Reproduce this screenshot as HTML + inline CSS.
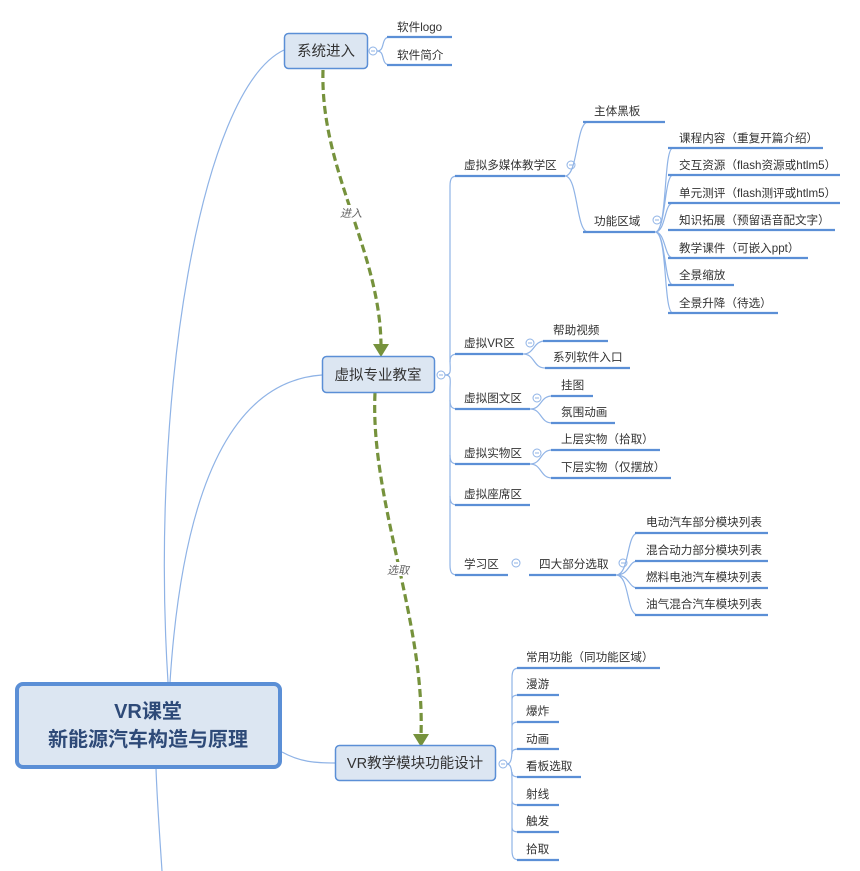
<!DOCTYPE html>
<html><head><meta charset="utf-8"><style>
html,body{margin:0;padding:0;background:#fff;width:860px;height:871px;overflow:hidden}
svg{display:block}
text{font-family:"Liberation Sans","Noto Sans CJK SC",sans-serif;fill:#333}
.l{font-size:11.6px}
.n{font-size:14.5px;fill:#333}
.u{stroke:#5b8fd6;stroke-width:2.2;fill:none}
.c{stroke:#8fb3e6;stroke-width:1.2;fill:none}
.o{stroke:#8fb3e6;stroke-width:1;fill:#fff}
</style></head><body>
<svg width="860" height="871" viewBox="0 0 860 871">
<!-- root connectors -->
<path class="c" d="M168 682 C150 400 200 90 284 50"/>
<path class="c" d="M170 682 C185 450 250 380 322 375"/>
<path class="c" d="M282 752 C300 762 315 763 335 763"/>
<path class="c" d="M156 768 C157 800 160 840 162 871"/>
<!-- dashed arrows -->
<path d="M323 70 C320 170 380 250 381 345" stroke="#76923c" stroke-width="3.2" stroke-dasharray="8,4" fill="none"/>
<polygon points="373,344 389,344 381,357" fill="#76923c"/>
<path d="M375 393 C370 500 425 620 421 735" stroke="#76923c" stroke-width="3.2" stroke-dasharray="8,4" fill="none"/>
<polygon points="413,734 429,734 421,747" fill="#76923c"/>
<rect x="339" y="205" width="24" height="14" fill="#fff"/>
<text x="340" y="217" style="font-size:11px;font-style:italic;fill:#666">进入</text>
<rect x="386" y="562" width="24" height="14" fill="#fff"/>
<text x="387" y="574" style="font-size:11px;font-style:italic;fill:#666">选取</text>
<!-- root -->
<rect x="17" y="684" width="263" height="83" rx="6" fill="#dce6f2" stroke="#5b8fd6" stroke-width="4"/>
<text x="148" y="718" text-anchor="middle" style="font-size:20px;font-weight:bold;fill:#2e4a78">VR课堂</text>
<text x="148" y="746" text-anchor="middle" style="font-size:20px;font-weight:bold;fill:#2e4a78">新能源汽车构造与原理</text>
<!-- main nodes -->
<rect x="284.5" y="33.5" width="83" height="35" rx="4" fill="#dce6f2" stroke="#5b8fd6" stroke-width="1.5"/>
<text class="n" x="326" y="56" text-anchor="middle">系统进入</text>
<rect x="322.5" y="356.5" width="112" height="36" rx="4" fill="#dce6f2" stroke="#5b8fd6" stroke-width="1.5"/>
<text class="n" x="378" y="380" text-anchor="middle">虚拟专业教室</text>
<rect x="335.5" y="745.5" width="160" height="35" rx="4" fill="#dce6f2" stroke="#5b8fd6" stroke-width="1.5"/>
<text class="n" x="415" y="768" text-anchor="middle">VR教学模块功能设计</text>

<!-- 系统进入 children -->
<circle class="o" cx="373" cy="51" r="4"/>
<path class="c" d="M377 51 C386 51 380 37 390 37 M377 51 C386 51 380 65 390 65"/>
<path class="u" d="M387 37 H452 M387 65 H452"/>
<text class="l" x="397" y="31">软件logo</text><text class="l" x="397" y="59">软件简介</text>

<!-- 虚拟专业教室 spine -->
<circle class="o" cx="441" cy="375" r="4"/>
<path class="c" d="M445 375 C452 375 450 370 450 360 L450 186 C450 178 452 176 458 176"/>
<path class="c" d="M445 375 C452 375 450 380 450 390 L450 565 C450 573 452 575 458 575"/>
<path class="c" d="M450 362 C450 356 452 354 458 354 M450 400 C450 407 452 409 458 409 M450 455 C450 462 452 464 458 464 M450 496 C450 503 452 505 458 505"/>
<path class="u" d="M455 176 H565 M455 354 H523 M455 409 H530 M455 464 H530 M455 505 H530 M455 575 H508 M529 575 H616"/>
<text class="l" x="464" y="169">虚拟多媒体教学区</text>
<text class="l" x="464" y="347">虚拟VR区</text>
<text class="l" x="464" y="402">虚拟图文区</text>
<text class="l" x="464" y="457">虚拟实物区</text>
<text class="l" x="464" y="498">虚拟座席区</text>
<text class="l" x="464" y="568">学习区</text>
<text class="l" x="539" y="568">四大部分选取</text>

<!-- 多媒体 children -->
<circle class="o" cx="571" cy="165" r="4"/>
<path class="c" d="M565 176 C578 176 576 122 588 122 M565 176 C578 176 576 232 588 232"/>
<path class="u" d="M583 122 H665 M583 232 H655"/>
<text class="l" x="594" y="115">主体黑板</text><text class="l" x="594" y="225">功能区域</text>
<circle class="o" cx="657" cy="220" r="4"/>
<path class="c" d="M655 232 C668 232 663 148 673 148 M655 232 C666 232 664 175 673 175 M655 232 C666 232 664 203 673 203 M655 232 C666 232 664 258 673 258 M655 232 C666 232 664 285 673 285 M655 232 C668 232 663 313 673 313"/>
<path class="u" d="M668 148 H823 M668 175 H840 M668 203 H840 M668 230 H835 M668 258 H808 M668 285 H734 M668 313 H778"/>
<text class="l" x="679" y="142">课程内容（重复开篇介绍）</text>
<text class="l" x="679" y="169">交互资源（flash资源或htlm5）</text>
<text class="l" x="679" y="197">单元测评（flash测评或htlm5）</text>
<text class="l" x="679" y="224">知识拓展（预留语音配文字）</text>
<text class="l" x="679" y="252">教学课件（可嵌入ppt）</text>
<text class="l" x="679" y="279">全景缩放</text>
<text class="l" x="679" y="307">全景升降（待选）</text>

<!-- VR区 -->
<circle class="o" cx="530" cy="343" r="4"/>
<path class="c" d="M523 354 C535 354 533 341 545 341 M523 354 C535 354 533 368 545 368"/>
<path class="u" d="M543 341 H608 M545 368 H630"/>
<text class="l" x="553" y="334">帮助视频</text><text class="l" x="553" y="361">系列软件入口</text>
<!-- 图文区 -->
<circle class="o" cx="537" cy="398" r="4"/>
<path class="c" d="M530 409 C542 409 540 396 552 396 M530 409 C542 409 540 423 552 423"/>
<path class="u" d="M551 396 H593 M551 423 H615"/>
<text class="l" x="561" y="389">挂图</text><text class="l" x="561" y="416">氛围动画</text>
<!-- 实物区 -->
<circle class="o" cx="537" cy="453" r="4"/>
<path class="c" d="M530 464 C542 464 540 450 552 450 M530 464 C542 464 540 478 552 478"/>
<path class="u" d="M551 450 H660 M551 478 H671"/>
<text class="l" x="561" y="443">上层实物（拾取）</text><text class="l" x="561" y="471">下层实物（仅摆放）</text>
<!-- 学习区 -->
<circle class="o" cx="516" cy="563" r="4"/>
<circle class="o" cx="623" cy="563" r="4"/>
<path class="c" d="M616 575 C630 575 626 533 638 533 M616 575 C630 575 628 561 638 561 M616 575 C630 575 628 588 638 588 M616 575 C630 575 626 615 638 615"/>
<path class="u" d="M635 533 H768 M635 561 H768 M635 588 H768 M635 615 H768"/>
<text class="l" x="646" y="526">电动汽车部分模块列表</text>
<text class="l" x="646" y="554">混合动力部分模块列表</text>
<text class="l" x="646" y="581">燃料电池汽车模块列表</text>
<text class="l" x="646" y="608">油气混合汽车模块列表</text>

<!-- VR module children -->
<circle class="o" cx="503" cy="764" r="4"/>
<path class="c" d="M507 764 C512 764 512 755 512 745 L512 678 C512 670 514 668 520 668 M507 764 C512 764 512 773 512 783 L512 850 C512 858 514 860 520 860 M512 700 C512 696 514 695 520 695 M512 727 C512 723 514 722 520 722 M512 754 C512 750 514 749 520 749 M512 772 C512 776 514 777 520 777 M512 800 C512 804 514 805 520 805 M512 827 C512 831 514 832 520 832"/>
<path class="u" d="M517 668 H660 M517 695 H559 M517 722 H559 M517 749 H559 M517 777 H581 M517 805 H559 M517 832 H559 M517 860 H559"/>
<text class="l" x="526" y="661">常用功能（同功能区域）</text>
<text class="l" x="526" y="688">漫游</text>
<text class="l" x="526" y="715">爆炸</text>
<text class="l" x="526" y="743">动画</text>
<text class="l" x="526" y="770">看板选取</text>
<text class="l" x="526" y="798">射线</text>
<text class="l" x="526" y="825">触发</text>
<text class="l" x="526" y="853">拾取</text>
<!-- minus signs in collapse circles -->
<path stroke="#8fb3e6" stroke-width="1" d="M371 51 H375 M439 375 H443 M569 165 H573 M655 220 H659 M528 343 H532 M535 398 H539 M535 453 H539 M514 563 H518 M621 563 H625 M501 764 H505"/>
</svg>
</body></html>
